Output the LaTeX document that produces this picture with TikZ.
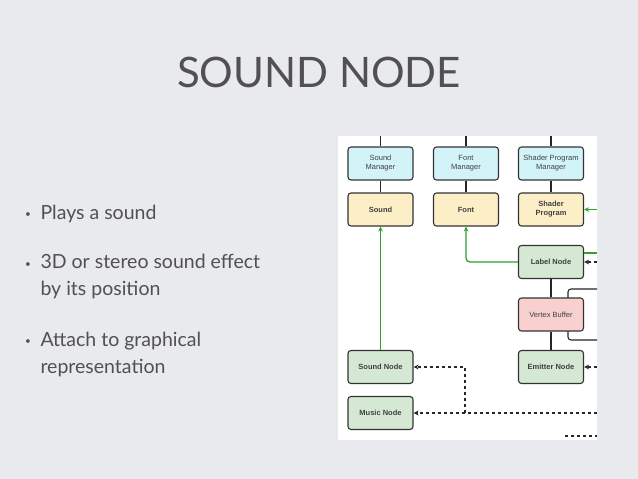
\documentclass[tikz,border=0pt]{standalone}
\usepackage{fontspec}
\setmainfont{Lato}
\newfontfamily\diag{Liberation Sans}
\usetikzlibrary{arrows.meta}
\definecolor{bg}{HTML}{E9EAED}
\definecolor{bluef}{HTML}{D2F3F8}
\definecolor{yelf}{HTML}{FCEFC7}
\definecolor{grnf}{HTML}{D5E8D4}
\definecolor{redf}{HTML}{F8D0CF}
\definecolor{grn}{HTML}{2EA12E}
\definecolor{txt}{HTML}{505055}
\begin{document}
\begin{tikzpicture}[x=1pt,y=-1pt,
 box/.style={draw=black!80,line width=1.1pt,rounded corners=3pt,minimum width=65pt,minimum height=33pt,inner sep=1pt,align=center,font=\diag\fontsize{7.5}{9}\selectfont,text=black!75},
 res/.style={box,fill=yelf,font=\diag\bfseries\fontsize{7.5}{9}\selectfont},
 mgr/.style={box,fill=bluef},
 nd/.style={box,fill=grnf,font=\diag\bfseries\fontsize{7.5}{9}\selectfont},
 ga/.style={grn,line width=1.3pt,-{Stealth[length=5pt,width=4.5pt]},rounded corners=4pt},
 da/.style={black!85,line width=1.1pt,dash pattern=on 3pt off 3pt,-{Stealth[open,length=5pt,width=5pt]}},
 ln/.style={black!85,line width=1.1pt}]
\fill[bg] (0,0) rectangle (638,479);
\useasboundingbox (0,0) rectangle (638,479);
\fill[white] (338,136) rectangle (597,440);
\node[text=txt,font=\fontsize{42}{46}\selectfont] (t) at (319,72) {SOUND NODE};
\begin{scope}[every node/.style={text=txt,anchor=west,align=left,font=\fontsize{19.5}{27}\selectfont}]
\node (b1) at (37,214) {Plays a sound};
\node (b2) at (37,276.5) {3D or stereo sound effect\\by its position};
\node (b3) at (37,354) {Attach to graphical\\representation};
\end{scope}
\begin{scope}[every node/.style={text=txt,font=\fontsize{10}{10}\selectfont}]
\node (d1) at (28,215) {\textbullet};
\node (d2) at (28,265) {\textbullet};
\node (d3) at (28,342) {\textbullet};
\end{scope}
\draw[ln,rounded corners=3pt] (597,289)--(568,289)--(568,340)--(597,340);
\node[mgr] (sm) at (380.5,163.5) {Sound\\Manager};
\node[mgr] (fm) at (466,163.5) {Font\\Manager};
\node[mgr] (pm) at (551,163.5) {Shader Program\\Manager};
\node[res] (s) at (380.5,209.5) {Sound};
\node[res] (f) at (466,209.5) {Font};
\node[res] (sp) at (551,209.5) {Shader\\Program};
\node[nd] (ln) at (551,262) {Label Node};
\node[box,fill=redf] (vb) at (551,314.5) {Vertex Buffer};
\node[nd] (en) at (551,367) {Emitter Node};
\node[nd] (sn) at (380.5,367) {Sound Node};
\node[nd] (mn) at (380.5,413) {Music Node};
\coordinate (t1) at (380.5,136); \coordinate (t2) at (466,136); \coordinate (t3) at (551,136);
\draw[ln] (t1)--(sm) (sm)--(s) (t2)--(fm) (fm)--(f) (t3)--(pm) (pm)--(sp) (ln)--(vb) (vb)--(en);
\draw[ga] (sn)--(s);
\draw[ga] (ln.west)-|(f.south);
\coordinate (g1) at (597,209.5);
\draw[ga] (g1)--(sp);
\draw[grn,line width=1.3pt] (ln.east|-0,253)--(597,253);
\coordinate (r1) at (597,262); \coordinate (r2) at (597,367); \coordinate (r3) at (597,413);
\coordinate (j) at (465,413);
\draw[da] (r1)--(ln); \draw[da] (r2)--(en); \draw[da] (r3)--(mn);
\draw[da] (j)--(465,367)--(sn);
\draw[ln,dash pattern=on 3pt off 3pt] (565,436)--(597,436);
\end{tikzpicture}
\end{document}
